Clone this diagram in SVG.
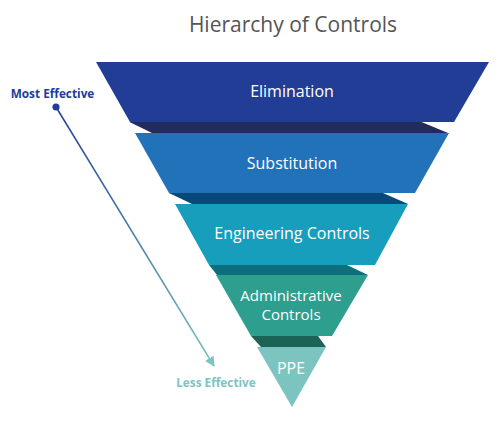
<svg xmlns="http://www.w3.org/2000/svg" width="500" height="423" viewBox="0 0 500 423">
  <style>
    .lbl { font-family: "Open Sans", "Noto Sans", sans-serif; fill: #ffffff; text-anchor: middle; font-size: 16px; }
    .lbl2 { font-family: "Open Sans", "Noto Sans", sans-serif; fill: #ffffff; text-anchor: middle; font-size: 15px; }
    .title { font-family: "Open Sans", "Noto Sans", sans-serif; fill: #555555; text-anchor: middle; font-size: 21px; }
    .side { font-family: "Open Sans", "Noto Sans", sans-serif; font-weight: bold; font-size: 11.8px; text-anchor: middle; }
  </style>
  <defs>
    <linearGradient id="arrowGrad" gradientUnits="userSpaceOnUse" x1="56" y1="107" x2="214" y2="366">
      <stop offset="0" stop-color="#213d96"/>
      <stop offset="1" stop-color="#7cc4bf"/>
    </linearGradient>
    <marker id="arrowHead" markerWidth="10" markerHeight="10" refX="9" refY="5" orient="auto" markerUnits="userSpaceOnUse">
      <path d="M0,0 L10,5 L0,10 Z" fill="#7cc4bf"/>
    </marker>
  </defs>

  <rect width="500" height="423" fill="#ffffff"/>

  <text class="title" x="293" y="32">Hierarchy of Controls</text>

  <g id="shadows">
    <polygon points="129.5,122 421.5,122 448,133 152,133" fill="#222b5e"/>
    <polygon points="169,193 383,193 408,204 192,204" fill="#07497a"/>
    <polygon points="209,265 347,265 368,275 217,275" fill="#0b6f7e"/>
    <polygon points="251,336 318,336 326,347 261,347" fill="#1b6357"/>
  </g>

  <g id="elimination">
    <polygon points="96,62 489,62 454,122 130,122" fill="#213d96"/>
    <text class="lbl" x="292" y="97">Elimination</text>
  </g>
  <g id="substitution">
    <polygon points="135,133 449,133 415,193 169,193" fill="#2272b9"/>
    <text class="lbl" x="292" y="169">Substitution</text>
  </g>
  <g id="engineering">
    <polygon points="175,204 408,204 375,265 209,265" fill="#179ebd"/>
    <text class="lbl" x="292" y="239">Engineering Controls</text>
  </g>
  <g id="administrative">
    <polygon points="216,275 368,275 332,336 251,336" fill="#2e9e8e"/>
    <text class="lbl2" x="291" y="301">Administrative</text>
    <text class="lbl2" x="291" y="320">Controls</text>
  </g>
  <g id="ppe">
    <polygon points="257,347 326,347 292,407" fill="#7cc4bf"/>
    <text class="lbl" x="291" y="374">PPE</text>
  </g>

  <g id="connectors">
    <line x1="56" y1="107" x2="214" y2="366" stroke="url(#arrowGrad)" stroke-width="1.5" marker-end="url(#arrowHead)"/>
    <circle cx="56" cy="107" r="3.6" fill="#213d96"/>
  </g>

  <g id="most-effective">
    <text class="side" x="52.5" y="97.5" fill="#213d96">Most Effective</text>
  </g>
  <g id="less-effective">
    <text class="side" x="216" y="387" fill="#7cc4bf">Less Effective</text>
  </g>
</svg>
